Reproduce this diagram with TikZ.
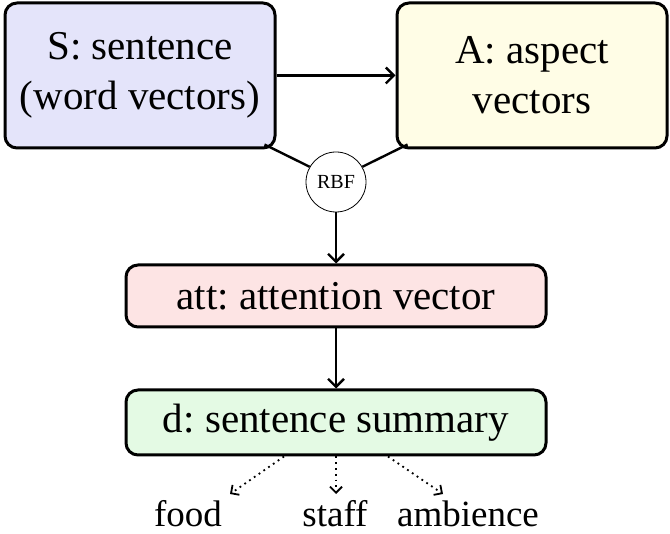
\documentclass[tikz,border=0pt]{standalone}
\usepackage{fontspec}
\setmainfont{Liberation Serif}
\usetikzlibrary{arrows.meta,positioning}
\definecolor{sblue}{RGB}{228,228,250}
\definecolor{ayellow}{RGB}{255,253,230}
\definecolor{attred}{RGB}{253,228,228}
\definecolor{dgreen}{RGB}{228,250,228}
\tikzset{
  box/.style={draw,line width=1.5pt,rounded corners=6pt,align=center,font=\fontsize{20.5}{25}\selectfont},
  lbl/.style={font=\fontsize{18.5}{22}\selectfont},
  arr/.style={-{Straight Barb[length=4pt]},line width=1.2pt},
  dotarr/.style={-{Straight Barb[length=3pt]},dotted,line width=0.9pt}
}
\begin{document}
\begin{tikzpicture}[x=0.5pt,y=-0.5pt]
\useasboundingbox (0,0) rectangle (670,534);
% Inputs
\node[box,fill=sblue,minimum width=135pt,minimum height=72.5pt] (s) at (140,75.5) {S: sentence\\(word vectors)};
\node[box,fill=ayellow,minimum width=135pt,minimum height=72.5pt] (a) at (532,75.5) {A: aspect\\vectors};
% RBF kernel
\node[draw,circle,minimum size=30pt,inner sep=0pt,font=\fontsize{10}{11}\selectfont] (rbf) at (336,182) {RBF};
% Attention and summary
\node[box,fill=attred,minimum width=210pt,minimum height=31pt] (att) at (336,296) {att:\ attention vector};
\node[box,fill=dgreen,minimum width=210pt,minimum height=32.5pt] (d) at (336,422.5) {d:\ sentence summary};
% Aspect labels
\node[lbl] (food) at (188,514) {food};
\node[lbl] (staff) at (335,514) {staff};
\node[lbl] (amb) at (468,514) {ambience};
\coordinate (cf) at (230,494);
\coordinate (cs) at (336,494);
\coordinate (ca) at (443,494);
% Connectors
\draw[arr] (s) -- (a);
\draw[line width=1.2pt] (s.south east) ++(-12,-5) coordinate (sc) -- (rbf.150);
\draw[line width=1.2pt] (a.south west) ++(12,-5) coordinate (ac) -- (rbf.30);
\draw[arr] (rbf) -- (att);
\draw[arr] (att) -- (d);
\draw[dotarr] ([xshift=-26pt]d.south) -- (cf);
\draw[dotarr] (d.south) -- (cs);
\draw[dotarr] ([xshift=26pt]d.south) -- (ca);
\end{tikzpicture}
\end{document}
